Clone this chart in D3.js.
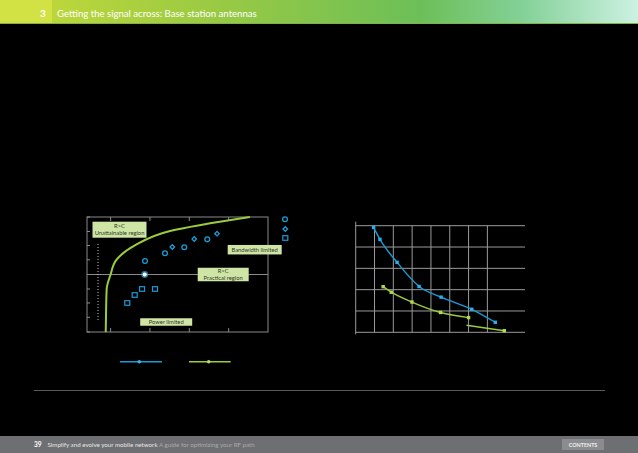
<!DOCTYPE html>
<html>
<head>
<meta charset="utf-8">
<script src="https://cdn.jsdelivr.net/npm/d3@7"></script>
<style>
  html, body { margin: 0; padding: 0; background: #000; }
  svg { display: block; font-family: Lato, "Open Sans", sans-serif; }
</style>
</head>
<body>
<svg id="page" width="638" height="453"></svg>
<script>
// ---- left chart: Eb/N0 (dB) vs spectral efficiency (bit/s/Hz) ----
var boundDb  = [-0.62, -0.59, -0.5, 0.0, 0.73, 3.03, 7.55, 17.7];
var boundEff = [0.1, 0.177, 0.56, 1.0, 1.79, 3.17, 5.7, 10];
var circleDb  = [4.37, 6.91, 9.36, 12.28];
var circleEff = [1.72, 2.34, 2.97, 4.09];
var diamondDb  = [7.84, 10.63, 13.52];
var diamondEff = [3.01, 4.14, 5.13];
var squareDb  = [2.12, 3.06, 3.99, 5.64];
var squareEff = [0.32, 0.44, 0.56, 0.56];
var pointDb = [4.33];
var pointEff = [1.0];
var shannonLimitDb = -1.6;
var xTicksLeft = [0, 5, 10, 15];
var yTicksLeft = [0.1, 0.18, 0.32, 0.56, 1, 1.8, 3.2, 5.6, 10];

// ---- right chart ----
var blueX = [0.95, 1.29, 2.2, 3.37, 4.54, 6.17, 7.42];
var blueY = [4.92, 4.36, 3.28, 2.15, 1.65, 1.08, 0.47];
var greenX = [1.46, 1.89, 2.99, 4.51, 6.0];
var greenY = [2.14, 1.88, 1.42, 0.93, 0.69];
var greenTailX = [5.89, 7.9];
var greenTailY = [0.33, 0.075];
var xGridRight = [1, 2, 3, 4, 5, 6, 7];
var yGridRight = [0, 1, 2, 3, 4, 5];

var blue = "#1b9ad6";
var green = "#9ccc3c";
var boxFill = "#cfe5a6";

var svg = d3.select("#page");

// header bar
var defs = svg.append("defs");
var grad = defs.append("linearGradient").attr("id", "hdr");
grad.append("stop").attr("offset", "0%").attr("stop-color", "#c6da38");
grad.append("stop").attr("offset", "35%").attr("stop-color", "#98c944");
grad.append("stop").attr("offset", "66%").attr("stop-color", "#6cbf58");
grad.append("stop").attr("offset", "82%").attr("stop-color", "#84d198");
grad.append("stop").attr("offset", "100%").attr("stop-color", "#cdf1e3");
svg.append("rect").attr("x", 0).attr("y", 0).attr("width", 638).attr("height", 24).attr("fill", "url(#hdr)");
svg.append("rect").attr("x", 0).attr("y", 0).attr("width", 52).attr("height", 24).attr("fill", "#d2e244");
svg.append("line").attr("x1", 0).attr("x2", 638).attr("y1", 23.5).attr("y2", 23.5)
    .attr("stroke", "#7fb24a").attr("stroke-width", 1);
svg.append("text").attr("x", 40).attr("y", 16.5).attr("fill", "#fff")
    .attr("font-size", "10px").attr("font-weight", "bold").text("3");
svg.append("text").attr("x", 57).attr("y", 16.5).attr("fill", "#fff")
    .attr("font-size", "9.6px").text("Getting the signal across: Base station antennas");

// left chart scales
var xL = d3.scaleLinear().domain([-3, 20]).range([87, 268]);
var yL = d3.scaleLog().domain([0.1, 10]).range([332, 217]);
var gL = svg.append("g");

gL.append("rect").attr("x", xL(-3)).attr("y", yL(10))
    .attr("width", xL(20) - xL(-3)).attr("height", yL(0.1) - yL(10))
    .attr("fill", "none").attr("stroke", "#8a8a8a").attr("stroke-width", 1);
gL.append("line").attr("x1", xL(-3)).attr("x2", xL(20)).attr("y1", yL(1)).attr("y2", yL(1))
    .attr("stroke", "#8a8a8a").attr("stroke-width", 1);
// inner ticks
gL.selectAll(".tt").data(xTicksLeft).enter().append("line")
    .attr("x1", d => xL(d)).attr("x2", d => xL(d)).attr("y1", yL(10)).attr("y2", yL(10) + 4)
    .attr("stroke", "#8a8a8a");
gL.selectAll(".tb").data(xTicksLeft).enter().append("line")
    .attr("x1", d => xL(d)).attr("x2", d => xL(d)).attr("y1", yL(0.1)).attr("y2", yL(0.1) - 4)
    .attr("stroke", "#8a8a8a");
gL.selectAll(".tl").data(yTicksLeft).enter().append("line")
    .attr("x1", xL(-3)).attr("x2", xL(-3) + 3).attr("y1", d => yL(d)).attr("y2", d => yL(d))
    .attr("stroke", "#8a8a8a");

// Shannon limit dotted line
gL.append("line").attr("x1", xL(shannonLimitDb)).attr("x2", xL(shannonLimitDb))
    .attr("y1", yL(3.4)).attr("y2", yL(0.15))
    .attr("stroke", "#cfcfcf").attr("stroke-width", 1).attr("stroke-dasharray", "1,2");

// bound curve
var boundPts = boundDb.map((d, i) => [d, boundEff[i]]);
gL.append("path").datum(boundPts)
    .attr("d", d3.line().x(d => xL(d[0])).y(d => yL(d[1])).curve(d3.curveMonotoneY))
    .attr("fill", "none").attr("stroke", green).attr("stroke-width", 2);

// label boxes
function labelBox(cx, cy, w, h, lines) {
    gL.append("rect").attr("x", cx - w / 2).attr("y", cy - h / 2).attr("width", w).attr("height", h)
        .attr("fill", boxFill);
    var t = gL.append("text").attr("text-anchor", "middle").attr("fill", "#2d3a26").attr("font-size", "5.8px");
    lines.forEach(function (s, i) {
        t.append("tspan").attr("x", cx).attr("y", cy + 2 + (i - (lines.length - 1) / 2) * 6.6).text(s);
    });
}
labelBox(119.5, 229.7, 54, 16, ["R>C", "Unattainable region"]);
labelBox(254.7, 249.7, 54, 9.5, ["Bandwidth limited"]);
labelBox(223.2, 274.5, 51, 13.5, ["R<C", "Practical region"]);
labelBox(166.2, 322, 52, 7.5, ["Power limited"]);

// markers
gL.selectAll(".ci").data(circleDb).enter().append("circle")
    .attr("cx", d => xL(d)).attr("cy", (d, i) => yL(circleEff[i])).attr("r", 2.4)
    .attr("fill", "none").attr("stroke", blue).attr("stroke-width", 1.3);
gL.selectAll(".di").data(diamondDb).enter().append("rect")
    .attr("transform", (d, i) => "translate(" + xL(d) + "," + yL(diamondEff[i]) + ") rotate(45)")
    .attr("x", -1.6).attr("y", -1.6).attr("width", 3.2).attr("height", 3.2)
    .attr("fill", "none").attr("stroke", blue).attr("stroke-width", 1.3);
gL.selectAll(".sq").data(squareDb).enter().append("rect")
    .attr("x", d => xL(d) - 2.5).attr("y", (d, i) => yL(squareEff[i]) - 2.3)
    .attr("width", 5).attr("height", 4.6)
    .attr("fill", "none").attr("stroke", blue).attr("stroke-width", 1.2);
gL.selectAll(".gl").data(pointDb).enter().append("circle")
    .attr("cx", d => xL(d)).attr("cy", (d, i) => yL(pointEff[i])).attr("r", 3.4)
    .attr("fill", "#3fa9e0").attr("opacity", 0.7);
gL.selectAll(".pw").data(pointDb).enter().append("circle")
    .attr("cx", d => xL(d)).attr("cy", (d, i) => yL(pointEff[i])).attr("r", 2)
    .attr("fill", "#ffffff");

// legend symbols on the right of the left chart
gL.append("circle").attr("cx", 285).attr("cy", 219.3).attr("r", 2.4)
    .attr("fill", "none").attr("stroke", blue).attr("stroke-width", 1.3);
gL.append("rect").attr("transform", "translate(285.3,229) rotate(45)")
    .attr("x", -1.6).attr("y", -1.6).attr("width", 3.2).attr("height", 3.2)
    .attr("fill", "none").attr("stroke", blue).attr("stroke-width", 1.3);
gL.append("rect").attr("x", 282.8).attr("y", 235.7).attr("width", 5).attr("height", 4.6)
    .attr("fill", "none").attr("stroke", blue).attr("stroke-width", 1.2);

// series legend under left chart
var lg = svg.append("g");
lg.append("line").attr("x1", 120).attr("x2", 162).attr("y1", 361.7).attr("y2", 361.7)
    .attr("stroke", blue).attr("stroke-width", 1.5);
lg.append("circle").attr("cx", 139.3).attr("cy", 361.7).attr("r", 1.8).attr("fill", "#35b5f0");
lg.append("line").attr("x1", 189).attr("x2", 230.7).attr("y1", 361.7).attr("y2", 361.7)
    .attr("stroke", green).attr("stroke-width", 1.5);
lg.append("circle").attr("cx", 208.7).attr("cy", 361.7).attr("r", 1.8).attr("fill", "#b8e060");

// right chart
var xR = d3.scaleLinear().domain([0, 9]).range([355.7, 525]);
var yR = d3.scaleLinear().domain([0, 5]).range([332.3, 225.7]);
var gR = svg.append("g");
gR.selectAll(".vg").data(xGridRight).enter().append("line")
    .attr("x1", d => xR(d)).attr("x2", d => xR(d)).attr("y1", yR(5)).attr("y2", yR(0))
    .attr("stroke", "#9a9a9a").attr("stroke-width", 1);
gR.selectAll(".hg").data(yGridRight).enter().append("line")
    .attr("x1", xR(0)).attr("x2", xR(9)).attr("y1", d => yR(d)).attr("y2", d => yR(d))
    .attr("stroke", "#9a9a9a").attr("stroke-width", 1);
gR.append("line").attr("x1", xR(0)).attr("x2", xR(0)).attr("y1", yR(5) - 4).attr("y2", yR(0) + 2)
    .attr("stroke", "#9a9a9a").attr("stroke-width", 1);

var lineR = d3.line().x(d => xR(d[0])).y(d => yR(d[1])).curve(d3.curveMonotoneX);
function series(xs, ys, color, markerColor, markAll) {
    var pts = xs.map((d, i) => [d, ys[i]]);
    gR.append("path").datum(pts).attr("d", lineR)
        .attr("fill", "none").attr("stroke", color).attr("stroke-width", 1.4);
    var mk = markAll ? pts : pts.slice(-1);
    gR.selectAll(null).data(mk).enter().append("rect")
        .attr("x", d => xR(d[0]) - 1.7).attr("y", d => yR(d[1]) - 1.7)
        .attr("width", 3.4).attr("height", 3.4).attr("fill", markerColor);
}
series(blueX, blueY, blue, "#2aaef0", true);
series(greenX, greenY, green, "#aedb50", true);
series(greenTailX, greenTailY, green, "#aedb50", false);

// divider
svg.append("line").attr("x1", 34).attr("x2", 605).attr("y1", 390.5).attr("y2", 390.5)
    .attr("stroke", "#5a5a5a").attr("stroke-width", 1);

// footer
svg.append("rect").attr("x", 0).attr("y", 436).attr("width", 638).attr("height", 17).attr("fill", "#6e6f72");
svg.append("text").attr("x", 34).attr("y", 447.3).attr("fill", "#fff")
    .attr("font-size", "6.6px").attr("font-weight", "bold").text("39");
var ft = svg.append("text").attr("x", 47.5).attr("y", 447.3).attr("font-size", "6.2px");
ft.append("tspan").attr("fill", "#e6e6e6").text("Simplify and evolve your mobile network ");
ft.append("tspan").attr("fill", "#a9aaac").text("A guide for optimizing your RF path");
svg.append("rect").attr("x", 562).attr("y", 439).attr("width", 42).attr("height", 11).attr("fill", "#8b8c8f");
svg.append("text").attr("x", 583).attr("y", 446.6).attr("text-anchor", "middle").attr("fill", "#f0f0f0")
    .attr("font-size", "5.4px").attr("font-weight", "bold").text("CONTENTS");
</script>
</body>
</html>
